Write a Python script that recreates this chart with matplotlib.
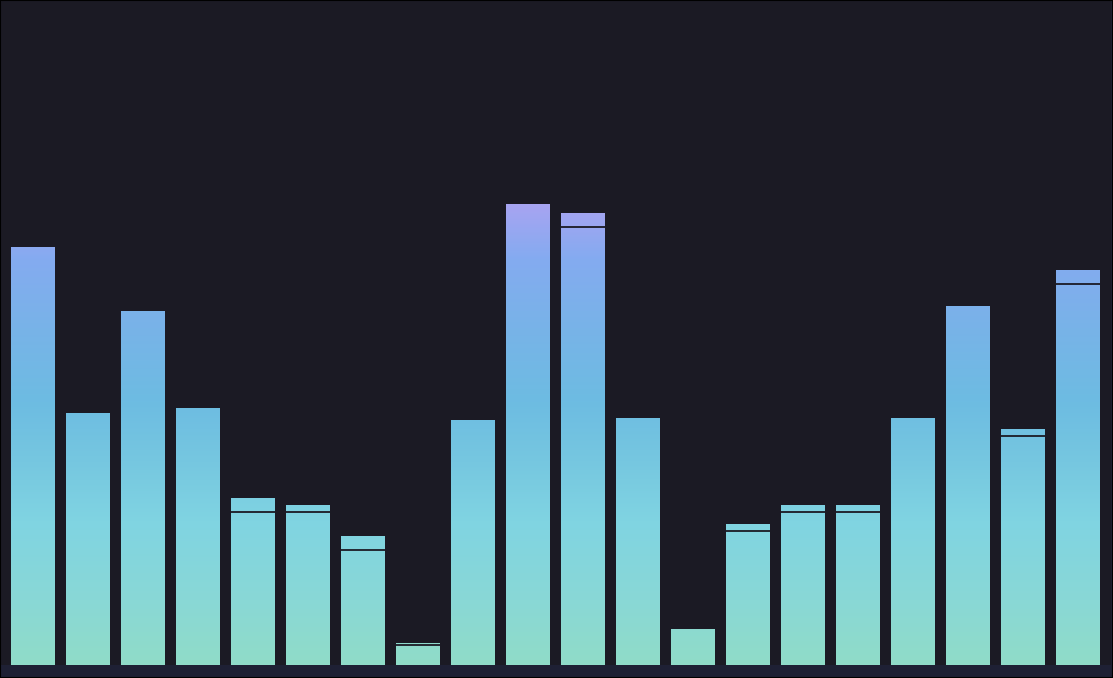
import numpy as np
import matplotlib
matplotlib.use("Agg")
import matplotlib.pyplot as plt
from matplotlib.colors import LinearSegmentedColormap
from matplotlib.patches import Rectangle

# bar values: lower segment and a small cap stacked on top
base_values = [59.7, 36.0, 50.6, 36.7, 21.9, 21.9, 16.4, 2.9, 35.0, 65.9,
               62.6, 35.3, 5.1, 19.1, 21.9, 21.9, 35.3, 51.3, 32.7, 54.4]
cap_values = [0, 0, 0, 0, 2.0, 1.0, 2.0, 0.3, 0, 0,
              2.0, 0, 0, 1.0, 1.0, 1.0, 0, 0, 1.0, 2.0]

BG = "#1b1a24"
STRIP = "#1e2034"

# colour along the height of the tallest bar (bottom -> top)
grad_stops = [(0.00, "#90dcc8"), (0.14, "#89d8d6"), (0.31, "#80d4e2"),
              (0.44, "#76c7e0"), (0.57, "#6dbce2"), (0.73, "#78b3e8"),
              (0.88, "#84abf0"), (1.00, "#a8a4f2")]
cmap = LinearSegmentedColormap.from_list("bars", grad_stops)

fig = plt.figure(figsize=(11.13, 6.78), dpi=100, facecolor=STRIP)
W, H = 1113, 678
ax = fig.add_axes([1 / W, (H - 665) / H, 1110 / W, 664 / H])
ax.set_facecolor(BG)

x = np.arange(len(base_values))
lower = ax.bar(x, base_values, width=0.8, color="none", edgecolor="none")
upper = ax.bar(x, cap_values, bottom=base_values, width=0.8,
               color="none", edgecolor="none")

totals = np.array(base_values) + np.array(cap_values)
gmax = totals.max()
grad = np.linspace(0, 1, 512).reshape(-1, 1)

for p in list(lower) + list(upper):
    if p.get_height() <= 0:
        continue
    x0 = p.get_x()
    img = ax.imshow(grad, cmap=cmap, origin="lower", aspect="auto",
                    extent=(x0, x0 + p.get_width(), 0, gmax),
                    interpolation="bilinear", zorder=2)
    img.set_clip_path(p)

# thin dark separator where a cap sits on a bar
for p, c in zip(lower, cap_values):
    if c > 0:
        ax.hlines(p.get_height(), p.get_x(), p.get_x() + p.get_width(),
                  colors=BG, linewidth=1.3, zorder=3)

ax.set_xlim(-0.582, 19.6)
ax.set_ylim(0, 664 / 7)
ax.set_xticks([])
ax.set_yticks([])
for s in ax.spines.values():
    s.set_visible(False)

fig.patches.append(Rectangle((0, 0), 1, 1, transform=fig.transFigure,
                             fill=False, edgecolor="black", linewidth=1.5))

fig.savefig("out.png", dpi=100, facecolor=fig.get_facecolor())
